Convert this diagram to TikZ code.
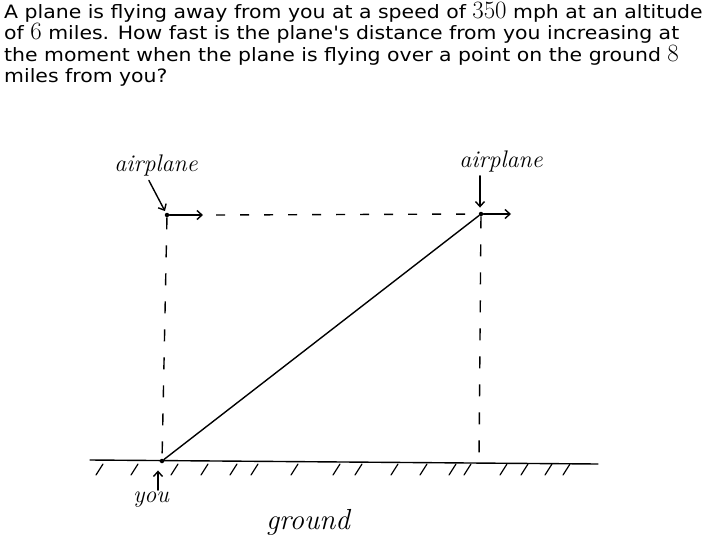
\documentclass[tikz,border=0pt]{standalone}
\usepackage{fontspec}
\usetikzlibrary{arrows.meta}
\newfontfamily\qfont[FakeStretch=1.11]{DejaVu Sans}
\newcommand{\bignum}[1]{\smash{\fontsize{23}{21.5}\selectfont$#1$}}

\begin{document}
\begin{tikzpicture}[x=1pt, y=-1pt,
    question/.style={anchor=base west, inner sep=0pt, align=left,
      font=\qfont\fontsize{18.4}{21.5}\selectfont},
    hand/.style={font=\itshape\fontsize{24}{24}\selectfont, inner sep=1pt},
    dot/.style={circle, fill=black, inner sep=0pt, minimum size=4.5pt},
    pen/.style={line width=1.4pt, line cap=round},
    pointer/.style={pen, -{Straight Barb[length=5pt,width=9pt]}},
    dashv/.style={pen, line cap=butt, dash pattern=on 12pt off 16pt},
    dashh/.style={pen, line cap=butt, dash pattern=on 9pt off 15pt}]
	\useasboundingbox (0,0) rectangle (717,557);

	% question text (base = last line)
	\node[question] (q) at (4,82.5) {A plane is flying away from you at a speed of \bignum{350} mph at an altitude\\
		of \bignum{6} miles. How fast is the plane's distance from you increasing at\\
		the moment when the plane is flying over a point on the ground \bignum{8}\\
		miles from you?};

	% points
	\node[dot] (p1) at (167,215) {};
	\node[dot] (p2) at (481,214) {};
	\node[dot] (you) at (162,461) {};
	\coordinate (v1) at (203,215);
	\coordinate (v2) at (511,214);
	\coordinate (foot) at (479,463);
	\coordinate (g1) at (90,460);
	\coordinate (g2) at (598,464);

	% labels
	\node[hand] (lp1) at (156,165) {airplane};
	\node[hand] (lp2) at (501,161) {airplane};
	\node[hand] (lyou) at (151,500) {you};
	\node[hand, font=\itshape\fontsize{29}{29}\selectfont] (lground) at (308,522) {ground};

	% ground
	\draw[pen] (g1) -- (g2);
	\foreach \h in {103,138,178,208,237,258,298,340,362,398,427,456,471,507,528,552,570}
		\draw[pen, line width=1.2pt] (\h-7,475) -- (\h,464);

	% triangle
	\draw[pen] (you) -- (p2);
	\draw[dashv] (p1) -- (you);
	\draw[dashv] (p2) -- (foot);
	\draw[dashh] ([xshift=13pt]v1) -- (p2);
	\draw[pointer] (p1) -- (v1);
	\draw[pointer] (p2) -- (v2);

	% pointers
	\draw[pointer, shorten <=4pt, shorten >=2pt] ([xshift=-9pt]lp1.south) -- (p1);
	\draw[pointer, shorten <=3pt, shorten >=4pt] ([xshift=-21pt]lp2.south) -- ([xshift=-1pt]p2.north);
	\draw[pointer, shorten <=1pt, shorten >=3pt] ([xshift=7pt]lyou.north) -- ([xshift=-4pt,yshift=-4pt]you.south);
\end{tikzpicture}
\end{document}
